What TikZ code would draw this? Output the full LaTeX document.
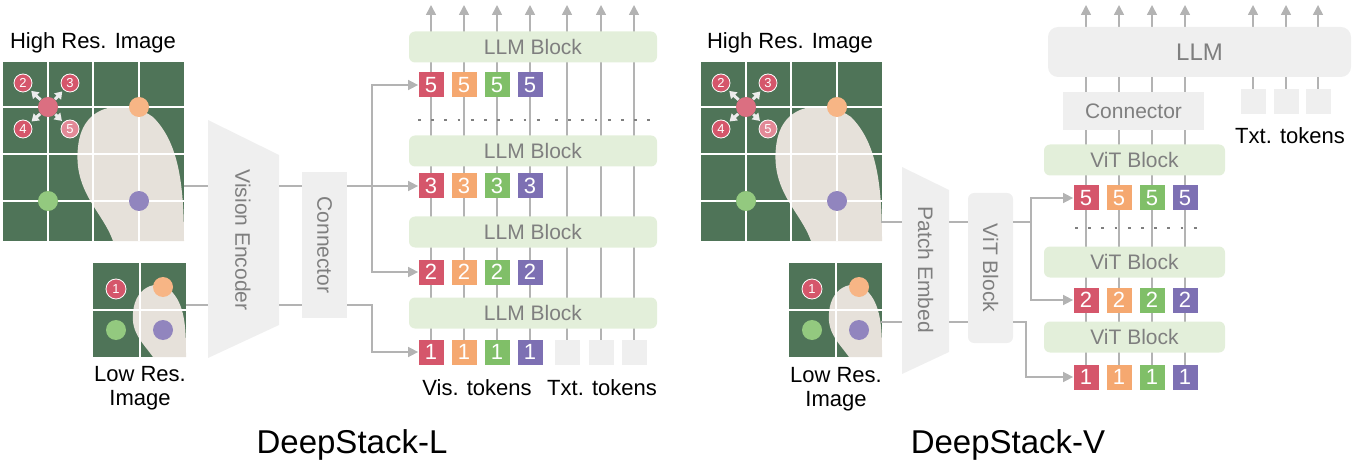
\documentclass[tikz,border=0pt]{standalone}
\usepackage{fontspec}
\setmainfont{Liberation Sans}
\usetikzlibrary{arrows.meta}
\definecolor{cR}{HTML}{D5566B}
\definecolor{cO}{HTML}{F5A870}
\definecolor{cG}{HTML}{80BF68}
\definecolor{cP}{HTML}{7D70B3}
\definecolor{blk}{HTML}{E3EFDA}
\definecolor{gbox}{HTML}{EFEFEF}
\definecolor{gtxt}{HTML}{7F7F7F}
\definecolor{ln}{HTML}{B3B3B3}
\definecolor{bg}{HTML}{4F7458}
\definecolor{fur}{HTML}{E6E1DA}
\tikzset{
 tok/.style={minimum width=12.5pt,minimum height=12.5pt,inner sep=0,text=white,font=\fontsize{11}{11}\selectfont},
 tbox/.style={fill=gbox,minimum width=12.5pt,minimum height=12.5pt,inner sep=0},
 blkbox/.style={fill=blk,rounded corners=3pt,inner sep=0,text=gtxt,font=\fontsize{10.5}{11}\selectfont},
 gray/.style={fill=gbox,inner sep=0,text=gtxt,font=\fontsize{10.5}{11}\selectfont},
 wire/.style={draw=ln,line width=0.8pt},
 arr/.style={wire,-{Triangle[length=5pt,width=5pt]}},
 lab/.style={font=\fontsize{11}{12}\selectfont,align=center},
 ttl/.style={font=\fontsize{16.5}{18}\selectfont},
 dots/.style={draw=gtxt,line width=1.4pt,dash pattern=on 1.4pt off 5.2pt},
 num/.style={circle,draw=white,line width=0.4pt,inner sep=0,minimum size=9pt,text=white,font=\fontsize{6.5}{6.5}\selectfont}
}
\newcommand{\hiimg}[2]{% x0 y0 top-left
 \begin{scope}[shift={(#1,#2)}]
 \fill[bg] (0,0) rectangle (181,179);
 \fill[fur] (75,85) .. controls (80,35) and (130,40) .. (150,55) .. controls (175,80) and (181,120) .. (181,179) -- (110,179) .. controls (100,150) and (70,130) .. (75,85);
 \foreach \x in {45,90,136} \draw[white,line width=0.8pt] (\x,0) -- (\x,179);
 \foreach \y in {45,92,139} \draw[white,line width=0.8pt] (0,\y) -- (181,\y);
 \node[circle,fill=cR!85,minimum size=10pt,inner sep=0] (rc) at (45,45) {};
 \fill[cO!85] (136,45) circle (10);
 \fill[cG!85] (45,139) circle (10);
 \fill[cP!85] (136,139) circle (10);
 \node[num,fill=cR] (n2) at (20,21) {2};
 \node[num,fill=cR] (n3) at (67,21) {3};
 \node[num,fill=cR] (n4) at (20,67) {4};
 \node[num,fill=cR!70] (n5) at (67,67) {5};
 \foreach \n in {n2,n3,n4,n5} \draw[white!85!gray,line width=1.5pt,shorten >=1pt,-{Triangle[length=3.5pt,width=4.5pt]}] (rc) -- (\n);
 \end{scope}}
\newcommand{\loimg}[2]{%
 \begin{scope}[shift={(#1,#2)}]
 \fill[bg] (0,0) rectangle (93,94);
 \fill[fur] (40,50) .. controls (42,20) and (70,15) .. (80,30) .. controls (93,45) and (93,70) .. (93,94) -- (60,94) .. controls (50,80) and (38,70) .. (40,50);
 \draw[white,line width=0.8pt] (47,0) -- (47,94);
 \draw[white,line width=0.8pt] (0,47) -- (93,47);
 \node[num,fill=cR,minimum size=10pt] at (23,26) {1};
 \fill[cO!85] (70,24) circle (10);
 \fill[cG!85] (23,67) circle (10);
 \fill[cP!85] (70,67) circle (10);
 \end{scope}}
\begin{document}
\begin{tikzpicture}[x=0.5pt,y=-0.5pt]
\useasboundingbox (0,0) rectangle (1353,470);
% ================= LEFT =================
\node[lab] (hiL) at (93,43) {High Res. Image};
\hiimg{3}{62}
\loimg{93}{263}
\node[lab] (loL) at (140,388) {Low Res.\\Image};
\fill[gbox] (208,120) -- (279,155) -- (279,325) -- (208,358) -- cycle;
\node[rotate=-90,text=gtxt,font=\fontsize{10.5}{11}\selectfont] (VE) at (243,240) {Vision Encoder};
\node[gray,minimum width=22.5pt,minimum height=73pt] (CN) at (324.5,245) {};
\node[rotate=-90,text=gtxt,font=\fontsize{10.5}{11}\selectfont] at (CN) {Connector};
\foreach \x in {431,464,497,530,567,601,634}
  \draw[arr] (\x,352) -- (\x,5);
\foreach \y/\n in {47/B4,151/B3,232/B2,313/B1}
  \node[blkbox,minimum width=124pt,minimum height=15.5pt] (\n) at (533,\y) {LLM Block};
\foreach \r/\y in {5/85,3/186,2/272,1/352}{
  \node[tok,fill=cR] (L\r a) at (431,\y) {\r};
  \node[tok,fill=cO] (L\r b) at (464,\y) {\r};
  \node[tok,fill=cG] (L\r c) at (497,\y) {\r};
  \node[tok,fill=cP] (L\r d) at (530,\y) {\r};}
\foreach \x/\n in {567/T1,601/T2,634/T3} \node[tbox] (\n) at (\x,352) {};
\draw[dots] (418,120) -- (545,120);
\draw[dots] (555,120) -- (650,120);
\node[lab] at (477,388) {Vis. tokens};
\node[lab] at (602,388) {Txt. tokens};
\coordinate (hiLe) at (184,186); \coordinate (loLe) at (186,305);
\draw[wire] (hiLe) -- (208,186); \draw[wire] (279,186) -- (CN.west|-hiLe);
\draw[wire] (loLe) -- (208,305); \draw[wire] (279,305) -- (CN.west|-loLe);
\draw[arr] (CN.east|-hiLe) -- (372,186) |- (L5a.west);
\draw[arr] (CN.east|-hiLe) -- (L3a.west);
\draw[arr] (372,186) |- (L2a.west);
\draw[arr] (CN.east|-loLe) -- (372,305) |- (L1a.west);
\node[ttl] at (352,445) {DeepStack-L};
% ================= RIGHT =================
\node[lab] (hiR) at (790,43) {High Res. Image};
\hiimg{701}{62}
\loimg{789}{263}
\node[lab] (loR) at (836,389) {Low Res.\\Image};
\fill[gbox] (902,167) -- (949,190) -- (949,352) -- (902,374) -- cycle;
\node[rotate=-90,text=gtxt,font=\fontsize{10.5}{11}\selectfont] (PE) at (925.5,270) {Patch Embed};
\node[gray,rounded corners=3pt,minimum width=22.5pt,minimum height=75pt] (VB) at (990.5,268) {};
\node[rotate=-90,text=gtxt,font=\fontsize{10.5}{11}\selectfont] at (VB) {ViT Block};
\foreach \x in {1086,1119,1152,1185} \draw[arr] (\x,377) -- (\x,5);
\foreach \x in {1253,1286,1318} \draw[arr] (\x,102) -- (\x,5);
\node[gray,rounded corners=5pt,minimum width=151.5pt,minimum height=25pt,font=\fontsize{12}{12}\selectfont] (LLM) at (1199.5,52) {LLM};
\node[gray,minimum width=70.5pt,minimum height=19pt] (CR) at (1133.5,111) {Connector};
\foreach \x/\n in {1253/U1,1286/U2,1318/U3} \node[tbox] (\n) at (\x,102) {};
\node[lab] at (1290,136) {Txt. tokens};
\foreach \y/\n in {160/V3,262/V2,337/V1}
  \node[blkbox,minimum width=90.5pt,minimum height=15.5pt] (\n) at (1134.5,\y) {ViT Block};
\foreach \r/\y in {5/198,2/300,1/377}{
  \node[tok,fill=cR] (R\r a) at (1086,\y) {\r};
  \node[tok,fill=cO] (R\r b) at (1119,\y) {\r};
  \node[tok,fill=cG] (R\r c) at (1152,\y) {\r};
  \node[tok,fill=cP] (R\r d) at (1185,\y) {\r};}
\draw[dots] (1075,228) -- (1200,228);
\coordinate (hiRe) at (881,222); \coordinate (loRe) at (881,322);
\draw[wire] (hiRe) -- (902,222); \draw[wire] (949,222) -- (VB.west|-hiRe);
\draw[wire] (loRe) -- (902,322); \draw[wire] (949,322) -- (VB.west|-loRe);
\draw[arr] (VB.east|-hiRe) -- (1031,222) |- (R5a.west);
\draw[arr] (1031,222) |- (R2a.west);
\draw[arr] (VB.east|-loRe) -- (1026,322) |- (R1a.west);
\node[ttl] at (1008,445) {DeepStack-V};
\end{tikzpicture}
\end{document}
